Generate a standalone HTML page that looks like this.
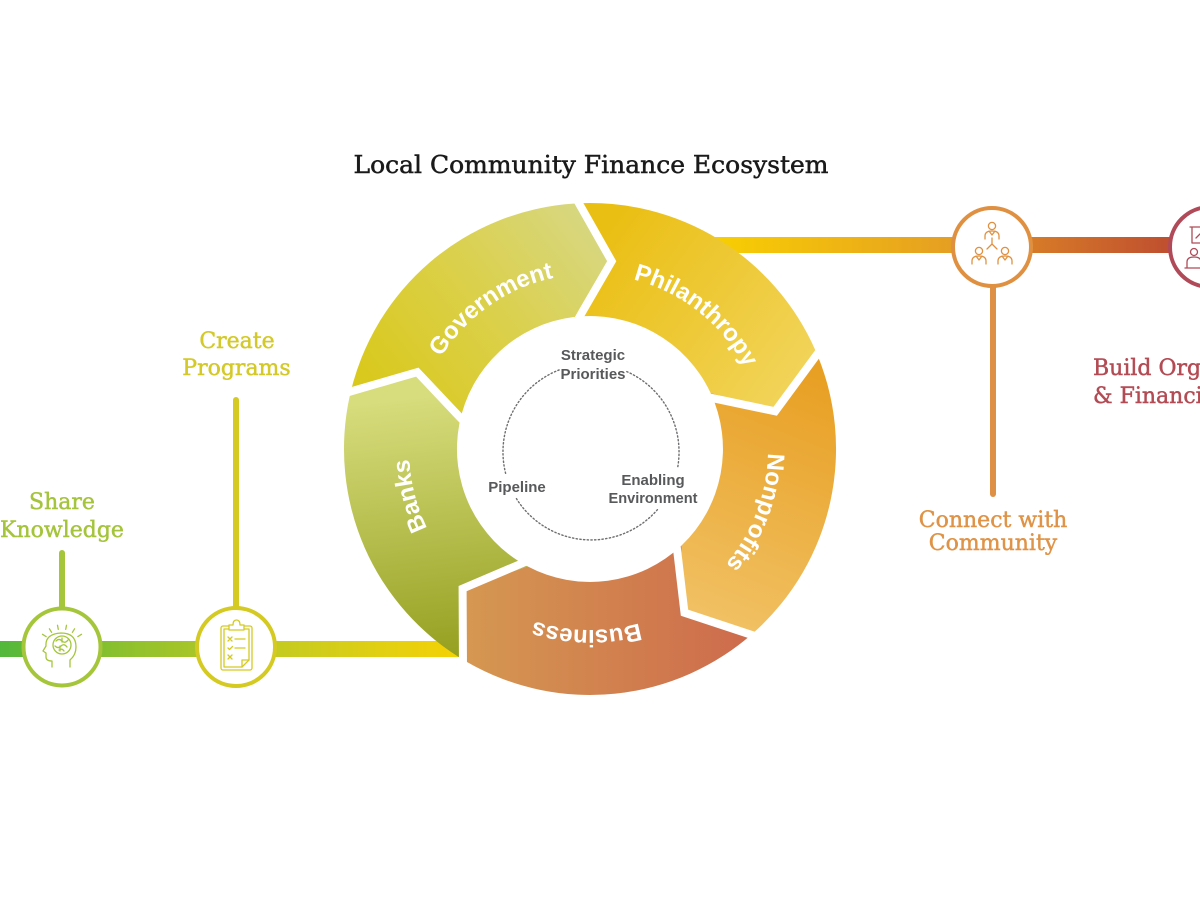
<!DOCTYPE html>
<html>
<head>
<meta charset="utf-8">
<style>
  html, body { margin: 0; padding: 0; background: #ffffff; }
  svg { display: block; }
</style>
</head>
<body>
<svg width="1200" height="900" viewBox="0 0 1200 900" xmlns="http://www.w3.org/2000/svg">
  <defs>
    <linearGradient id="gLeft" gradientUnits="userSpaceOnUse" x1="0" y1="0" x2="470" y2="0">
      <stop offset="0" stop-color="#52b83b"/>
      <stop offset="0.13" stop-color="#72bc33"/>
      <stop offset="0.3" stop-color="#94c22c"/>
      <stop offset="0.5" stop-color="#b5c826"/>
      <stop offset="0.6" stop-color="#c6cb1f"/>
      <stop offset="0.85" stop-color="#e6d010"/>
      <stop offset="1" stop-color="#f7d200"/>
    </linearGradient>
    <linearGradient id="gTop" gradientUnits="userSpaceOnUse" x1="700" y1="0" x2="1200" y2="0">
      <stop offset="0" stop-color="#f8d200"/>
      <stop offset="0.2" stop-color="#f2bd0e"/>
      <stop offset="0.5" stop-color="#e59f22"/>
      <stop offset="0.67" stop-color="#d67a28"/>
      <stop offset="0.93" stop-color="#c0502f"/>
      <stop offset="1" stop-color="#bb4b33"/>
    </linearGradient>
    <linearGradient id="gGov" gradientUnits="userSpaceOnUse" x1="390" y1="400" x2="600" y2="235">
      <stop offset="0" stop-color="#d9c91f"/>
      <stop offset="0.5" stop-color="#dbd04a"/>
      <stop offset="1" stop-color="#d7d780"/>
    </linearGradient>
    <linearGradient id="gPhil" gradientUnits="userSpaceOnUse" x1="600" y1="240" x2="810" y2="395">
      <stop offset="0" stop-color="#eabf14"/>
      <stop offset="1" stop-color="#f2d55e"/>
    </linearGradient>
    <linearGradient id="gNP" gradientUnits="userSpaceOnUse" x1="800" y1="370" x2="700" y2="620">
      <stop offset="0" stop-color="#e8a024"/>
      <stop offset="1" stop-color="#f1c164"/>
    </linearGradient>
    <linearGradient id="gBus" gradientUnits="userSpaceOnUse" x1="470" y1="640" x2="760" y2="640">
      <stop offset="0" stop-color="#d59751"/>
      <stop offset="1" stop-color="#cd694c"/>
    </linearGradient>
    <linearGradient id="gBanks" gradientUnits="userSpaceOnUse" x1="400" y1="400" x2="430" y2="660">
      <stop offset="0" stop-color="#d7dc7c"/>
      <stop offset="1" stop-color="#95a020"/>
    </linearGradient>
    <path id="c175" d="M590,274 A175,175 0 1 1 590,624 A175,175 0 1 1 590,274" fill="none"/>
    <path id="c178" d="M590,271 A178,178 0 1 1 590,627 A178,178 0 1 1 590,271" fill="none"/>
    <path id="c181" d="M590,268 A181,181 0 1 1 590,630 A181,181 0 1 1 590,268" fill="none"/>
  </defs>

  <!-- connector lines -->
  <rect x="0" y="641" width="470" height="16" fill="url(#gLeft)"/>
  <rect x="700" y="237" width="500" height="16" fill="url(#gTop)"/>

  <!-- stems -->
  <line x1="62" y1="553" x2="62" y2="610" stroke="#a5c63b" stroke-width="6" stroke-linecap="round"/>
  <line x1="236" y1="400" x2="236" y2="608" stroke="#d4ca22" stroke-width="6" stroke-linecap="round"/>
  <line x1="993" y1="284" x2="993" y2="494" stroke="#de9045" stroke-width="6" stroke-linecap="round"/>

  <!-- ring segments -->
  <path d="M754.6,631.8 A246,246 0 0 1 467,662 L462.6,588.6 L527.6,566.4 A133,133 0 0 0 681.4,545.6 L684.5,612.7 Z" fill="url(#gBus)"/>
  <path d="M467,662 A246,246 0 0 1 349.8,395.8 L417.3,372.1 L459.4,423.6 A133,133 0 0 0 527.6,566.4 L462.6,588.6 Z" fill="url(#gBanks)"/>
  <path d="M349.8,395.8 A246,246 0 0 1 575,203.5 L611.7,261.2 L573.8,317 A133,133 0 0 0 459.4,423.6 L417.3,372.1 Z" fill="url(#gGov)"/>
  <path d="M575,203.5 A246,246 0 0 1 815.3,350.1 L775.2,411.3 L710.5,392.8 A133,133 0 0 0 573.8,317 L611.7,261.2 Z" fill="url(#gPhil)"/>
  <path d="M815.3,350.1 A246,246 0 0 1 754.6,631.8 L684.5,612.7 L681.4,545.6 A133,133 0 0 0 710.5,392.8 L775.2,411.3 Z" fill="url(#gNP)"/>

  <!-- white gaps -->
  <g fill="none" stroke="#ffffff" stroke-width="8" stroke-linejoin="miter">
    <polyline points="463,669 462.6,588.6 531.3,559.4"/>
    <polyline points="342,394 417.3,372.1 467.3,425.1"/>
    <polyline points="574.5,195.5 611.7,261.2 574.8,324.9"/>
    <polyline points="822.6,346.9 775.2,411.3 703.3,396.2"/>
    <polyline points="760,637.7 684.5,612.7 675.9,539.8"/>
  </g>

  <!-- segment labels -->
  <g font-family="Liberation Sans, Arial, sans-serif" font-weight="bold" font-size="24" fill="#ffffff">
    <text><textPath href="#c175" startOffset="991.7" text-anchor="middle">Government</textPath></text>
    <text><textPath href="#c175" startOffset="117" text-anchor="middle">Philanthropy</textPath></text>
    <text><textPath href="#c178" startOffset="344.2" text-anchor="middle">Nonprofits</textPath></text>
    <text><textPath href="#c181" startOffset="571.8" text-anchor="middle">Business</textPath></text>
    <text><textPath href="#c181" startOffset="806.5" text-anchor="middle">Banks</textPath></text>
  </g>

  <!-- inner dotted circle -->
  <g fill="none" stroke="#6e6e70" stroke-width="1.4" stroke-dasharray="1.3 2.4" stroke-linecap="round">
    <path d="M505.6,473.3 A88,88 0 0 1 559.5,369.8"/>
    <path d="M626.8,371.6 A88,88 0 0 1 677.7,467.3"/>
    <path d="M657.4,509.7 A88,88 0 0 1 516.4,498.6"/>
  </g>
  <g font-family="Liberation Sans, Arial, sans-serif" font-weight="bold" font-size="15" fill="#58595b" text-anchor="middle">
    <text x="593" y="360">Strategic</text>
    <text x="593" y="379">Priorities</text>
    <text x="517" y="492">Pipeline</text>
    <text x="653" y="485">Enabling</text>
    <text x="653" y="503" textLength="89" lengthAdjust="spacingAndGlyphs">Environment</text>
  </g>

  <!-- circles -->
  <circle cx="62" cy="647" r="38.5" fill="#ffffff" stroke="#a5c63b" stroke-width="4"/>
  <circle cx="236" cy="647" r="39" fill="#ffffff" stroke="#d4ca22" stroke-width="4"/>
  <circle cx="992" cy="247" r="39" fill="#ffffff" stroke="#df9141" stroke-width="4"/>
  <circle cx="1210" cy="247" r="40" fill="#ffffff" stroke="#b04a58" stroke-width="4"/>

  <!-- brain head icon -->
  <g fill="none" stroke="#a5c63b" stroke-width="1.3" stroke-linecap="round" stroke-linejoin="round">
    <path d="M52,667 L52,661 Q46,661 46,657 L46,653 L43,651 L46,646 Q45,634 61,633 Q76,633 76,647 Q76,655 70,660 L70,667"/>
    <circle cx="62" cy="645" r="9"/>
    <path d="M56,641 q3,-3 6,0 q3,3 6,-1 M55,646 q3,3 6,0 q3,-3 6,1 M59,650 q3,-2 5,1 M62,638 v4 M60,646 v5"/>
    <line x1="46.1" y1="636.6" x2="42.5" y2="634.3"/>
    <line x1="51.6" y1="632.3" x2="49.4" y2="628.8"/>
    <line x1="58.3" y1="629.4" x2="57.5" y2="625.3"/>
    <line x1="65.7" y1="629.4" x2="66.5" y2="625.3"/>
    <line x1="72.4" y1="632.3" x2="74.6" y2="628.8"/>
    <line x1="77.9" y1="636.6" x2="81.5" y2="634.3"/>
  </g>

  <!-- clipboard icon -->
  <g fill="none" stroke="#d4ca22" stroke-width="1.3" stroke-linecap="round" stroke-linejoin="round">
    <rect x="221" y="626" width="31" height="44" rx="2"/>
    <path d="M224,629 H249 V660 L242,667 H224 Z"/>
    <path d="M249,660 H242 V667"/>
    <path d="M229,630 V625 H233 Q233,620 236.5,620 Q240,620 240,625 H244 V630 Z" fill="#ffffff"/>
    <path d="M228,637 l4,4 M232,637 l-4,4 M235,639 H245"/>
    <path d="M228,648 l1.5,1.5 l3,-3 M235,648 H245"/>
    <path d="M228,655 l4,4 M232,655 l-4,4"/>
  </g>

  <!-- people network icon -->
  <g fill="none" stroke="#df9141" stroke-width="1.3" stroke-linecap="round" stroke-linejoin="round">
    <circle cx="992" cy="226" r="3.6"/>
    <path d="M985,239 V236 Q985,231 992,231 Q999,231 999,236 V239 M989,231 L992,235 L995,231"/>
    <path d="M992,238 V244 L987,249 M992,244 L997,249"/>
    <circle cx="979" cy="251" r="3.6"/>
    <path d="M972,264 V261 Q972,256 979,256 Q986,256 986,261 V264 M976,256 L979,260 L982,256"/>
    <circle cx="1005" cy="251" r="3.6"/>
    <path d="M998,264 V261 Q998,256 1005,256 Q1012,256 1012,261 V264 M1002,256 L1005,260 L1008,256"/>
  </g>

  <!-- build icon (partially visible) -->
  <g fill="none" stroke="#b04a58" stroke-width="1.3" stroke-linecap="round" stroke-linejoin="round">
    <path d="M1190,227 H1215 M1192,227 V243 H1215"/>
    <path d="M1196,238 l4,-4 l3,3 l5,-5"/>
    <circle cx="1194" cy="252" r="3.5"/>
    <path d="M1187,268 V262 Q1187,257 1194,257 Q1201,257 1201,262 V268 M1185,268 H1210"/>
  </g>

  <!-- title -->
  <text x="591" y="173" text-anchor="middle" font-family="DejaVu Serif, Liberation Serif, serif" font-size="24" fill="#1a1a1a" stroke="#1a1a1a" stroke-width="0.5" textLength="475" lengthAdjust="spacingAndGlyphs">Local Community Finance Ecosystem</text>

  <!-- side labels -->
  <g font-family="DejaVu Serif, Liberation Serif, serif" font-size="22" text-anchor="middle" stroke-width="0.45">
    <text x="62" y="509" fill="#a5c43c" stroke="#a5c43c">Share</text>
    <text x="62" y="537" fill="#a5c43c" stroke="#a5c43c">Knowledge</text>
    <text x="237" y="348" fill="#d3c928" stroke="#d3c928">Create</text>
    <text x="236.5" y="375" fill="#d3c928" stroke="#d3c928">Programs</text>
    <text x="993" y="527" fill="#df9347" stroke="#df9347">Connect with</text>
    <text x="993" y="550" fill="#df9347" stroke="#df9347">Community</text>
  </g>
  <g font-family="DejaVu Serif, Liberation Serif, serif" font-size="22" fill="#b34b54" stroke="#b34b54" stroke-width="0.45">
    <text x="1093" y="375">Build Organizational</text>
    <text x="1093" y="403">&amp; Financial Capacity</text>
  </g>
</svg>
</body>
</html>
